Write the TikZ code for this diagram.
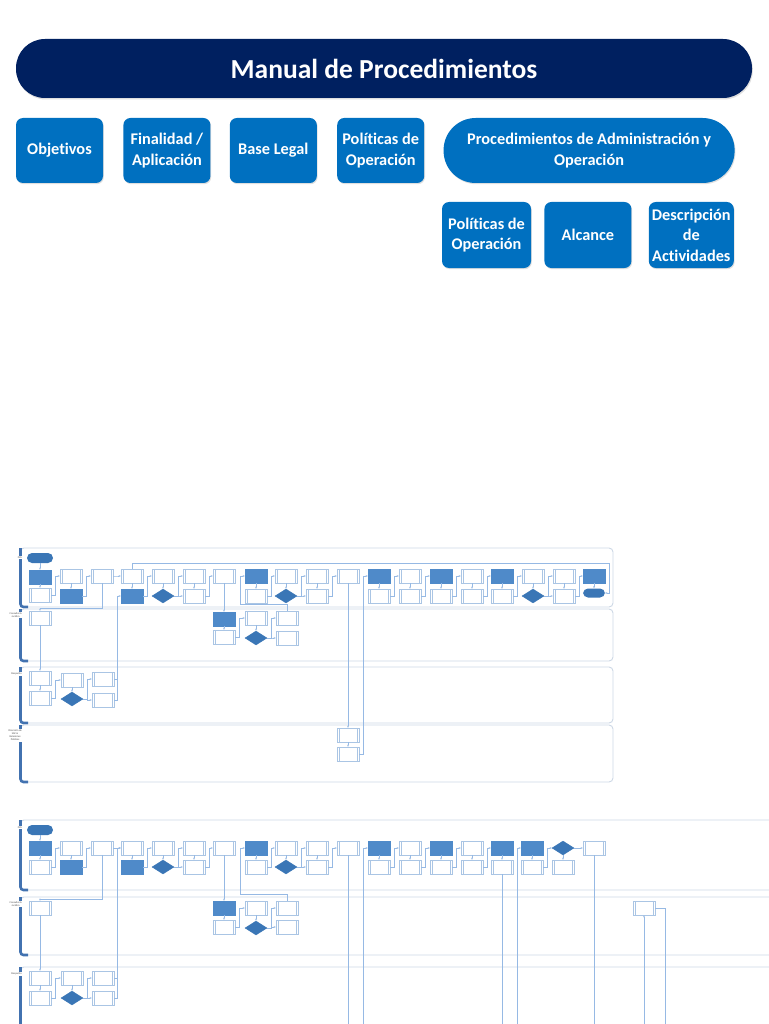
\documentclass[tikz,border=0pt]{standalone}
\usepackage{fontspec}
\setmainfont{Carlito}[Ligatures=NoCommon]
\usetikzlibrary{arrows.meta, shapes.geometric, shadows, positioning, calc}
\definecolor{navy}{RGB}{0,32,96}
\definecolor{boxblue}{RGB}{0,112,192}
\definecolor{flowblue}{RGB}{79,138,201}
\definecolor{flowdark}{RGB}{58,118,182}
\definecolor{boxedge}{RGB}{170,197,228}
\definecolor{linkblue}{RGB}{150,185,228}
\definecolor{laneedge}{RGB}{205,216,230}
\definecolor{lanebar}{RGB}{66,114,176}

\tikzset{
  flow-box/.style={rectangle, draw=boxedge, line width=0.4pt, minimum width=22pt, minimum height=14pt, inner sep=0pt},
  w-box/.style={flow-box, fill=white, path picture={
      \draw[boxedge, line width=0.3pt]
        ([xshift=1.8pt]path picture bounding box.north west) -- ([xshift=1.8pt]path picture bounding box.south west)
        ([xshift=-1.8pt]path picture bounding box.north east) -- ([xshift=-1.8pt]path picture bounding box.south east);}},
  f-box/.style={flow-box, fill=flowblue, draw=flowblue},
  d-box/.style={diamond, fill=flowdark, draw=flowdark, minimum width=22pt, minimum height=14pt, inner sep=0pt},
  n-box/.style={rectangle, minimum width=22pt, minimum height=14pt, inner sep=0pt},
  pill/.style={rectangle, rounded corners=5pt, fill=flowdark, minimum width=26pt, minimum height=10pt, inner sep=0pt},
  link/.style={draw=linkblue, line width=0.5pt},
  linkarr/.style={link, -{Stealth[length=2.2pt, width=1.8pt]}},
}

\begin{document}
\begin{tikzpicture}[
  x=1pt, y=-1pt,
  titlebar/.style={rectangle, rounded corners=29pt, fill=navy, text=white, minimum width=736pt, minimum height=59pt,
    font=\fontsize{27.5}{32}\selectfont\bfseries, drop shadow={opacity=0.25, shadow xshift=0.8pt, shadow yshift=-1.5pt}},
  topbox/.style={rectangle, rounded corners=7pt, fill=boxblue, text=white, minimum width=87pt, minimum height=65pt,
    align=center, inner sep=1pt, font=\fontsize{16.3}{20.5}\selectfont\bfseries,
    drop shadow={opacity=0.25, shadow xshift=0.8pt, shadow yshift=-1.2pt}},
  lanebox/.style={draw=laneedge, line width=0.9pt, rounded corners=4pt},
  lanebar/.style={draw=lanebar, line width=2.6pt, rounded corners=3pt},
  lanelabel/.style={anchor=north east, fill=white, inner sep=0.6pt, align=center, text=black!70,
    font=\fontsize{2.6}{3.1}\selectfont},
]
\useasboundingbox (0,0) rectangle (768,1024);
\fill[white] (0,0) rectangle (768,1024);

%% Title and sections
\node[titlebar] (title) at (384,68.5) {Manual de Procedimientos};
\node[topbox] (objetivos) at (59.5,150.5) {Objetivos};
\node[topbox, right=20pt of objetivos] (finalidad) {Finalidad /\\Aplicación};
\node[topbox, right=19pt of finalidad] (baselegal) {Base Legal};
\node[topbox, right=20pt of baselegal] (politicas) {Políticas de\\Operación};
\node[topbox, minimum width=291pt, rounded corners=32pt, right=19pt of politicas] (procedimientos)
  {Procedimientos de Administración y\\Operación};

%% Sub-sections
\node[topbox, minimum width=89pt, minimum height=66pt] (politicasop) at (486.5,235) {Políticas de\\Operación};
\node[topbox, minimum height=66pt, right=13pt of politicasop] (alcance) {Alcance};
\node[topbox, minimum width=85pt, minimum height=66pt, right=17pt of alcance] (descripcion) {Descripción\\de\\Actividades};

%% Flow chart 1: lanes
\foreach \ta/\bo in {548/607, 609/661, 667/723, 725/782} {
  \draw[lanebox] (20,\ta) rectangle (613,\bo);
  \draw[lanebar] (20.5,\ta) -- (20.5,\bo) -- (28,\bo);
}
\node[lanelabel] (dig-a) at (22.5,556) {DIG};
\node[lanelabel] (juridica-a) at (22.5,612) {Consultoría\\Jurídica};
\node[lanelabel] (despacho-a) at (22.5,672) {Despacho};
\node[lanelabel] (safi-a) at (22.5,729) {Dirección de\\SAFI o\\Relaciones\\Públicas};

%% Flow chart 1: first lane
\node[pill] (as) at (40,558) {};
\node[f-box] (a1-1) at (40,577) {};
\node[w-box] (a1b-1) at (40,595) {};
\foreach \n/\x/\tp/\bt in {2/71/w/f, 3/102/w/n, 4/132/w/f, 5/163/w/d, 6/194/w/w, 7/224/w/n, 8/256/f/w,
    9/286/w/d, 10/317/w/w, 11/348/w/n, 12/379/f/w, 13/410/w/w, 14/441/f/w, 15/472/w/w, 16/502/f/w,
    17/533/w/d, 18/564/w/w, 19/594/f/n} {
  \node[\tp-box] (a1-\n) at (\x,576) {};
  \node[\bt-box] (a1b-\n) at (\x,596) {};
}
\node[pill, minimum width=22pt, minimum height=9pt] (ae) at (594,593) {};

%% Flow chart 1: other lanes
\node[w-box] (a2-1) at (40,618) {};
\node[f-box] (a2-7) at (224,619) {};
\node[w-box] (a2b-7) at (224,637) {};
\node[w-box] (a2-8) at (256,618) {};
\node[d-box] (a2b-8) at (256,638) {};
\node[w-box] (a2-9) at (287,618) {};
\node[w-box] (a2b-9) at (287,638) {};
\node[w-box] (a3-1) at (40,678) {};
\node[w-box] (a3b-1) at (40,698) {};
\node[w-box] (a3-2) at (72,680) {};
\node[d-box] (a3b-2) at (72,699) {};
\node[w-box] (a3-3) at (103,679) {};
\node[w-box] (a3b-3) at (103,700) {};
\node[w-box] (a4-1) at (348,735) {};
\node[w-box] (a4-2) at (348,754) {};

\draw[linkarr] (as) -- (a1-1);
\foreach \n in {1,2,4,5,6,8,9,10,12,13,14,15,16,17,18}
  \draw[linkarr] (a1-\n) -- (a1b-\n);
\draw[linkarr] (a1-19) -- (ae);
\foreach \n/\m in {1/2,2/3,4/5,5/6,6/7,8/9,9/10,10/11,12/13,13/14,14/15,15/16,16/17,17/18,18/19}
  \draw[linkarr] (a1b-\n.east) -- ++(4,0) |- (a1-\m.west);
\foreach \n/\m in {5/6,9/10,17/18}
  \draw[linkarr] (a1b-\n.east) -- ++(4,0) |- (a1b-\m.west);
\draw[linkarr] (a1-3.east) -- ++(4,0) |- (a1-4.west);
\draw[linkarr] (a1-4.north) -- ++(0,-6) -| ([xshift=4pt]ae.east) -- (ae.east);
\draw[linkarr] (a1-3.south) -- ++(0,25) -| (a2-1.north);
\draw[linkarr] (a3b-3.east) -- ++(3,0) |- (a1b-4.west);
\draw[linkarr] (a1-11) -- (a4-1);
\draw[linkarr] (a4-1) -- (a4-2);
\draw[linkarr] (a4-2.east) -- ++(4,0) |- (a1-12.west);

%% Flow chart 2: lanes
\foreach \ta/\bo in {820/890, 897/955, 967/1040} {
  \draw[lanebox] (20,\ta) rectangle (780,\bo);
  \draw[lanebar] (20.5,\ta) -- (20.5,\bo) -- (28,\bo);
}
\node[lanelabel] (dig-b) at (22.5,826) {DIG};
\node[lanelabel] (juridica-b) at (22.5,901) {Consultoría\\Jurídica};
\node[lanelabel] (despacho-b) at (22.5,972) {Despacho};

%% Flow chart 2: first lane
\node[pill] (bs) at (40,830) {};
\node[f-box] (b1-1) at (40,848) {};
\node[w-box] (b1b-1) at (40,867) {};
\foreach \n/\x/\tp/\bt in {2/71/w/f, 3/102/w/n, 4/132/w/f, 5/163/w/d, 6/194/w/w, 7/224/w/n, 8/256/f/w,
    9/286/w/d, 10/317/w/w, 11/348/w/n, 12/379/f/w, 13/410/w/w, 14/441/f/w, 15/472/w/w, 16/502/f/w,
    17/532/f/w, 18/563/d/w, 19/594/w/n} {
  \node[\tp-box] (b1-\n) at (\x,848) {};
  \node[\bt-box] (b1b-\n) at (\x,867) {};
}

%% Flow chart 2: other lanes
\node[w-box] (b2-1) at (40,908) {};
\node[f-box] (b2-7) at (224,908) {};
\node[w-box] (b2b-7) at (224,927) {};
\node[w-box] (b2-8) at (256,908) {};
\node[d-box] (b2b-8) at (256,928) {};
\node[w-box] (b2-9) at (287,908) {};
\node[w-box] (b2b-9) at (287,927) {};
\node[w-box] (b2-19) at (644,908) {};
\node[w-box] (b3-1) at (40,978) {};
\node[w-box] (b3b-1) at (40,998) {};
\node[w-box] (b3-2) at (72,978) {};
\node[d-box] (b3b-2) at (72,998) {};
\node[w-box] (b3-3) at (103,978) {};
\node[w-box] (b3b-3) at (103,998) {};

\draw[linkarr] (bs) -- (b1-1);
\foreach \n in {1,2,4,5,6,8,9,10,12,13,14,15,16,17,18}
  \draw[linkarr] (b1-\n) -- (b1b-\n);
\foreach \n/\m in {1/2,2/3,4/5,5/6,6/7,8/9,9/10,10/11,12/13,13/14,14/15,15/16,17/18}
  \draw[linkarr] (b1b-\n.east) -- ++(4,0) |- (b1-\m.west);
\foreach \n/\m in {5/6,9/10}
  \draw[linkarr] (b1b-\n.east) -- ++(4,0) |- (b1b-\m.west);
\foreach \n/\m in {3/4,18/19}
  \draw[linkarr] (b1-\n.east) -- ++(4,0) |- (b1-\m.west);
\draw[linkarr] (b1-3.south) -- ++(0,44) -| (b2-1.north);
\draw[linkarr] (b3b-3.east) -- ++(3,0) |- (b1-4.west);

% lines running off the page
\coordinate (bd-11) at (348,1024);
\coordinate (bd-12) at (363,1024);
\coordinate (bd-16) at (502,1024);
\coordinate (bd-17) at (517,1024);
\coordinate (bd-19) at (594,1024);
\coordinate (bd-20) at (644,1024);
\coordinate (bd-21) at (665,1024);
\draw[link] (b1-11) -- (bd-11);
\draw[linkarr] (bd-12) |- (b1-12.west);
\draw[link] (b1b-16) -- (bd-16);
\draw[linkarr] (bd-17) |- (b1-17.west);
\draw[link] (b1-19) -- (bd-19);
\draw[linkarr] (bd-20) -- (b2-19);
\draw[link] (b2-19.east) -| (bd-21);

%% Lanes 2 and 3, same in both charts
\foreach \p in {a,b} {
  \draw[linkarr] (\p1-7) -- (\p2-7);
  \draw[linkarr] (\p2-1) -- (\p3-1);
  \draw[linkarr] (\p2-7) -- (\p2b-7);
  \draw[linkarr] (\p2b-7.east) -- ++(4,0) |- (\p2-8.west);
  \draw[linkarr] (\p2-8) -- (\p2b-8);
  \draw[linkarr] (\p2b-8.east) -- ++(4,0) |- (\p2-9.west);
  \draw[linkarr] (\p2b-8.east) -- ++(4,0) |- (\p2b-9.west);
  \draw[linkarr] (\p2-9.north) -- ++(0,-7) -| ([xshift=-5pt]\p1-8.west) -- (\p1-8.west);
  \draw[linkarr] (\p3-1) -- (\p3b-1);
  \draw[linkarr] (\p3b-1.east) -- ++(4,0) |- (\p3-2.west);
  \draw[linkarr] (\p3-2) -- (\p3b-2);
  \draw[linkarr] (\p3b-2.east) -- ++(4,0) |- (\p3-3.west);
  \draw[linkarr] (\p3b-2.east) -- ++(4,0) |- (\p3b-3.west);
  \draw[link] (\p3-3.east) -- ++(3,0);
}

\end{tikzpicture}
\end{document}
